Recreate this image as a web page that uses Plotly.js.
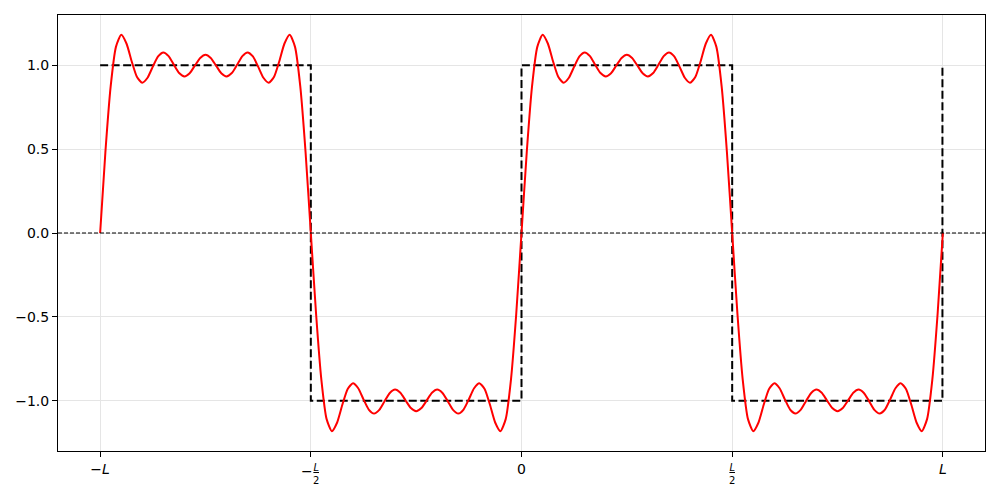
<!DOCTYPE html>
<html>
<head>
<meta charset="utf-8">
<script src="https://cdn.plot.ly/plotly-3.0.1.min.js"></script>
<style>html,body{margin:0;padding:0;background:#fff;}#chart{width:1000px;height:500px;}</style>
</head>
<body>
<div id="chart"></div>
<script>
// x in units of L
const xFourier = [
 -1.0000,-0.9875,-0.9750,-0.9625,-0.9500,-0.9375,-0.9250,-0.9125,-0.9000,-0.8875,-0.8750,-0.8625,-0.8500,-0.8375,-0.8250,-0.8125,-0.8000,-0.7875,-0.7750,-0.7625,
 -0.7500,-0.7375,-0.7250,-0.7125,-0.7000,-0.6875,-0.6750,-0.6625,-0.6500,-0.6375,-0.6250,-0.6125,-0.6000,-0.5875,-0.5750,-0.5625,-0.5500,-0.5375,-0.5250,-0.5125,
 -0.5000,-0.4875,-0.4750,-0.4625,-0.4500,-0.4375,-0.4250,-0.4125,-0.4000,-0.3875,-0.3750,-0.3625,-0.3500,-0.3375,-0.3250,-0.3125,-0.3000,-0.2875,-0.2750,-0.2625,
 -0.2500,-0.2375,-0.2250,-0.2125,-0.2000,-0.1875,-0.1750,-0.1625,-0.1500,-0.1375,-0.1250,-0.1125,-0.1000,-0.0875,-0.0750,-0.0625,-0.0500,-0.0375,-0.0250,-0.0125,
  0.0000, 0.0125, 0.0250, 0.0375, 0.0500, 0.0625, 0.0750, 0.0875, 0.1000, 0.1125, 0.1250, 0.1375, 0.1500, 0.1625, 0.1750, 0.1875, 0.2000, 0.2125, 0.2250, 0.2375,
  0.2500, 0.2625, 0.2750, 0.2875, 0.3000, 0.3125, 0.3250, 0.3375, 0.3500, 0.3625, 0.3750, 0.3875, 0.4000, 0.4125, 0.4250, 0.4375, 0.4500, 0.4625, 0.4750, 0.4875,
  0.5000, 0.5125, 0.5250, 0.5375, 0.5500, 0.5625, 0.5750, 0.5875, 0.6000, 0.6125, 0.6250, 0.6375, 0.6500, 0.6625, 0.6750, 0.6875, 0.7000, 0.7125, 0.7250, 0.7375,
  0.7500, 0.7625, 0.7750, 0.7875, 0.8000, 0.8125, 0.8250, 0.8375, 0.8500, 0.8625, 0.8750, 0.8875, 0.9000, 0.9125, 0.9250, 0.9375, 0.9500, 0.9625, 0.9750, 0.9875,
  1.0000
];
const yFourier = [
  0.000, 0.483, 0.874, 1.110, 1.182, 1.130, 1.023, 0.930, 0.896, 0.926, 0.992, 1.053, 1.077, 1.055, 1.003, 0.954, 0.934, 0.953, 0.999, 1.044,
  1.063, 1.044, 0.999, 0.953, 0.934, 0.954, 1.003, 1.055, 1.077, 1.053, 0.992, 0.926, 0.896, 0.930, 1.023, 1.130, 1.182, 1.110, 0.874, 0.483,
  0.000,-0.483,-0.874,-1.110,-1.182,-1.130,-1.023,-0.930,-0.896,-0.926,-0.992,-1.053,-1.077,-1.055,-1.003,-0.954,-0.934,-0.953,-0.999,-1.044,
 -1.063,-1.044,-0.999,-0.953,-0.934,-0.954,-1.003,-1.055,-1.077,-1.053,-0.992,-0.926,-0.896,-0.930,-1.023,-1.130,-1.182,-1.110,-0.874,-0.483,
  0.000, 0.483, 0.874, 1.110, 1.182, 1.130, 1.023, 0.930, 0.896, 0.926, 0.992, 1.053, 1.077, 1.055, 1.003, 0.954, 0.934, 0.953, 0.999, 1.044,
  1.063, 1.044, 0.999, 0.953, 0.934, 0.954, 1.003, 1.055, 1.077, 1.053, 0.992, 0.926, 0.896, 0.930, 1.023, 1.130, 1.182, 1.110, 0.874, 0.483,
  0.000,-0.483,-0.874,-1.110,-1.182,-1.130,-1.023,-0.930,-0.896,-0.926,-0.992,-1.053,-1.077,-1.055,-1.003,-0.954,-0.934,-0.953,-0.999,-1.044,
 -1.063,-1.044,-0.999,-0.953,-0.934,-0.954,-1.003,-1.055,-1.077,-1.053,-0.992,-0.926,-0.896,-0.930,-1.023,-1.130,-1.182,-1.110,-0.874,-0.483,
  0.000
];
const xSquare = [-1, -0.5, -0.5, 0, 0, 0.5, 0.5, 0.999, 0.999];
const ySquare = [ 1,  1,   -1,  -1, 1, 1,  -1,  -1,    1];
const xTickVals = [-1, -0.5, 0, 0.5, 1];
const xTickText = ['−<i>L</i>', ' ', '0', ' ', '<i>L</i>'];
const fracTicks = [-0.5, 0.5];
const fracSigns = ['−', ''];
const yTickVals = [-1, -0.5, 0, 0.5, 1];

const traces = [
  {x: xSquare, y: ySquare, type: 'scatter', mode: 'lines',
   line: {color: 'black', width: 2, dash: '8px,3.5px'}, hoverinfo: 'skip'},
  {x: xFourier, y: yFourier, type: 'scatter', mode: 'lines',
   line: {color: 'red', width: 2, shape: 'spline', smoothing: 0.6}, hoverinfo: 'skip'}
];
const tickFont = {family: 'DejaVu Sans', size: 14, color: 'black'};
const axisCommon = {
  showline: true, mirror: true, linecolor: 'black', linewidth: 1,
  ticks: 'outside', ticklen: 5, tickcolor: 'black', tickwidth: 1,
  showgrid: true, gridcolor: '#e5e5e5', gridwidth: 1, zeroline: false,
  tickfont: tickFont
};
const annotations = [];
fracTicks.forEach((v, i) => {
  annotations.push({x: v, xref: 'x', y: 0, yref: 'paper', yanchor: 'top', xanchor: 'center',
    xshift: fracSigns[i] ? 5 : 0, yshift: -9, showarrow: false,
    text: '<u><i>L</i></u><br>2', font: {family: 'DejaVu Sans', size: 10, color: 'black'}});
  if (fracSigns[i]) {
    annotations.push({x: v, xref: 'x', y: 0, yref: 'paper', yanchor: 'top', xanchor: 'center',
      xshift: -4, yshift: -10, showarrow: false,
      text: fracSigns[i], font: tickFont});
  }
});
const layout = {
  width: 1000, height: 500,
  margin: {l: 58, r: 15, t: 15, b: 49},
  paper_bgcolor: 'white', plot_bgcolor: 'white',
  showlegend: false,
  xaxis: Object.assign({}, axisCommon, {range: [-1.1, 1.1], tickvals: xTickVals, ticktext: xTickText}),
  yaxis: Object.assign({}, axisCommon, {range: [-1.3, 1.3], tickvals: yTickVals, tickformat: '.1f'}),
  annotations: annotations,
  shapes: [{type: 'line', xref: 'paper', x0: 0, x1: 1, yref: 'y', y0: 0, y1: 0,
            line: {color: 'black', width: 1, dash: '4px,2px'}, layer: 'above'}]
};
Plotly.newPlot('chart', traces, layout, {staticPlot: true});
</script>
</body>
</html>
